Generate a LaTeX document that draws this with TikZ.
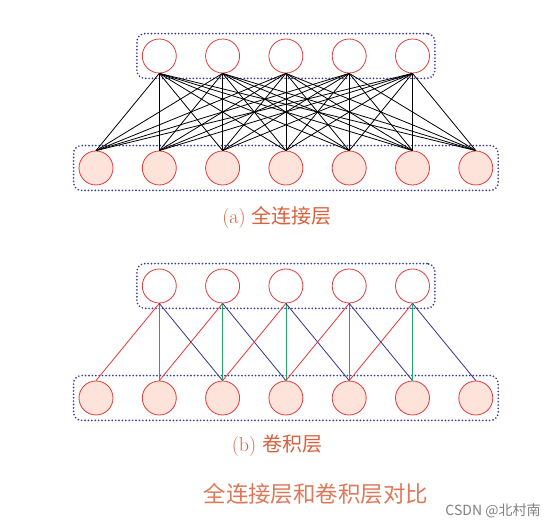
\documentclass[tikz,border=0pt]{standalone}
\usepackage{fontspec}
\newfontfamily\cjk{Noto Sans CJK SC}
\usetikzlibrary{positioning,fit}

\definecolor{nodered}{HTML}{E03A3A}
\definecolor{nodefill}{HTML}{FDE3DA}
\definecolor{boxblue}{HTML}{3A3A9C}
\definecolor{capcolor}{HTML}{D8603C}
\definecolor{wred}{HTML}{E83535}
\definecolor{wgreen}{HTML}{22A565}
\definecolor{wblue}{HTML}{33338F}

\tikzset{
	unit/.style={circle, draw=nodered, line width=0.8pt, minimum size=34pt, inner sep=0pt},
	inunit/.style={unit, fill=nodefill},
	layerbox/.style={draw=boxblue, line width=1.9pt, dash pattern=on 0pt off 3.4pt, line cap=round, rounded corners=8pt, inner sep=5pt},
	caption/.style={text=capcolor, font=\fontsize{20}{24}\selectfont},
	wire/.style={line width=0.8pt}
}

\begin{document}
\begin{tikzpicture}[x=1pt, y=-1pt]
	\useasboundingbox (0,0) rectangle (558,526);
	% (a) fully connected
	\foreach \i in {1,...,5}
		\node[unit] (ha\i) at ({96+63.3*\i}, 56) {};
	\foreach \j in {1,...,7}
		\node[inunit] (ia\j) at ({96+63.3*(\j-1)}, 168) {};
	\node[layerbox, fit=(ha1)(ha5)] (boxha) {};
	\node[layerbox, fit=(ia1)(ia7)] (boxia) {};
	\foreach \i in {1,...,5}
		\foreach \j in {1,...,7}
			\draw[wire, black] (ha\i.south) -- (ia\j.north);
	\node[caption] (capa) at (277, 217) {(a) {\cjk 全连接层}};

	% (b) convolution
	\foreach \i in {1,...,5}
		\node[unit] (hb\i) at ({96+63.3*\i}, 286) {};
	\foreach \j in {1,...,7}
		\node[inunit] (ib\j) at ({96+63.3*(\j-1)}, 398) {};
	\node[layerbox, fit=(hb1)(hb5)] (boxhb) {};
	\node[layerbox, fit=(ib1)(ib7)] (boxib) {};
	\foreach \i [evaluate=\i as \m using int(\i+1), evaluate=\i as \r using int(\i+2)] in {1,...,5}{
		\draw[wire, wred] (hb\i.south) -- (ib\i.north);
		\draw[wire, wgreen] (hb\i.south) -- (ib\m.north);
		\draw[wire, wblue] (hb\i.south) -- (ib\r.north);
	}
	\node[caption] (capb) at (277, 446) {(b) {\cjk 卷积层}};

	\node[text=capcolor!85, font=\cjk\fontsize{22.5}{27}\selectfont] (title) at (316, 494) {全连接层和卷积层对比};
	\node[text=gray, font=\cjk\fontsize{14}{16}\selectfont] (mark) at (493, 511) {CSDN @北村南};
\end{tikzpicture}
\end{document}
